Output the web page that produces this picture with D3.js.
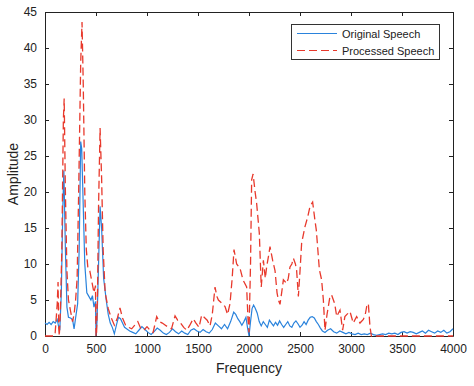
<!DOCTYPE html>
<html>
<head>
    <script src="https://d3js.org/d3.v7.min.js"></script>
    <style>
        body { margin: 0; background: white; font-family: Arial, "Liberation Sans", sans-serif; }
        svg { display: block; }
        .tick text { font-size: 12px; fill: #222; font-family: Arial, "Liberation Sans", sans-serif; }
        .domain, .tick line { stroke: #222; }
    </style>
</head>
<body>
<svg width="474" height="386"></svg>
<script>
    // Original speech spectrum (frequency, amplitude)
    let origFreq = [0, 20, 40, 60, 80, 100, 120, 135, 145, 160, 175, 185, 200, 215, 230, 250, 270, 285, 300, 320, 335, 350, 360, 375, 390, 410, 430, 450, 465, 480, 495, 500, 510, 525, 540, 555, 575, 600, 620, 640, 660, 680, 700, 720, 740, 760, 780, 800, 830, 860, 890, 920, 950, 980, 1010, 1040, 1070, 1100, 1130, 1160, 1190, 1220, 1250, 1280, 1310, 1340, 1370, 1400, 1430, 1460, 1490, 1520, 1550, 1580, 1610, 1640, 1670, 1700, 1730, 1760, 1790, 1820, 1850, 1870, 1890, 1910, 1930, 1950, 1970, 1985, 2000, 2015, 2030, 2045, 2060, 2080, 2100, 2120, 2140, 2160, 2180, 2200, 2220, 2240, 2260, 2280, 2300, 2320, 2340, 2360, 2380, 2400, 2420, 2440, 2460, 2480, 2500, 2520, 2540, 2560, 2580, 2600, 2620, 2640, 2660, 2680, 2700, 2720, 2745, 2770, 2800, 2830, 2860, 2890, 2920, 2950, 2980, 3010, 3040, 3070, 3100, 3130, 3160, 3190, 3220, 3250, 3280, 3310, 3340, 3370, 3400, 3430, 3460, 3490, 3520, 3550, 3580, 3610, 3640, 3670, 3700, 3730, 3760, 3790, 3820, 3850, 3880, 3910, 3940, 3970, 4000];
    let origAmp = [1.8, 1.6, 1.9, 1.6, 2.0, 1.8, 2.3, 1.2, 0.8, 6, 18, 23, 12, 4, 2.6, 2.5, 2.3, 1.0, 2.5, 4.5, 12, 27, 26, 18, 10, 6, 5.5, 5, 5.6, 4.0, 4.8, 0, 2, 10, 18, 15, 8, 5, 3, 1.8, 1.2, 0.3, 1.5, 2.6, 2.4, 1.8, 1.2, 1.0, 0.7, 0.5, 0.3, 0.8, 1.3, 0.9, 0.5, 0.2, 0.6, 1.1, 0.8, 0.4, 0.2, 0.5, 1.0, 0.6, 0.3, 0.7, 0.4, 0.2, 0.8, 1.0, 0.7, 0.5, 0.9, 0.6, 0.4, 0.9, 1.8, 1.4, 1.0, 1.6, 1.0, 2.0, 3.3, 3.0, 2.4, 2.0, 1.5, 2.0, 2.6, 1.2, 0, 2.0, 3.8, 4.3, 3.9, 3.2, 2.0, 1.4, 2.0, 1.6, 1.2, 2.2, 1.8, 1.4, 1.9, 1.5, 2.1, 1.6, 1.2, 1.6, 2.0, 1.4, 1.2, 1.8, 2.1, 1.7, 1.2, 1.5, 2.0, 1.6, 2.2, 2.6, 2.7, 2.5, 2.0, 1.6, 1.1, 0.7, 0.5, 0.8, 1.0, 0.6, 0.4, 0.7, 0.5, 0.3, 0.5, 0.3, 0.2, 0.4, 0.2, 0.3, 0.2, 0.4, 0.2, 0.1, 0.2, 0.3, 0.2, 0.4, 0.3, 0.4, 0.2, 0.5, 0.6, 0.4, 0.6, 0.5, 0.3, 0.5, 0.7, 0.4, 0.8, 0.6, 0.4, 0.7, 0.5, 0.8, 0.4, 0.6, 1.0];

    // Processed speech spectrum (frequency, amplitude)
    let procFreq = [0, 90, 100, 110, 120, 128, 135, 140, 150, 165, 180, 188, 200, 215, 230, 250, 270, 285, 300, 315, 330, 350, 363, 375, 390, 405, 420, 440, 460, 480, 495, 500, 505, 515, 525, 540, 555, 570, 590, 620, 650, 680, 710, 735, 760, 790, 820, 850, 880, 910, 940, 970, 1000, 1030, 1060, 1095, 1120, 1150, 1180, 1210, 1240, 1275, 1300, 1330, 1360, 1390, 1420, 1453, 1480, 1510, 1536, 1560, 1590, 1618, 1640, 1667, 1685, 1700, 1730, 1765, 1790, 1814, 1835, 1853, 1879, 1912, 1941, 1977, 1990, 2000, 2015, 2026, 2040, 2060, 2075, 2101, 2120, 2141, 2160, 2173, 2190, 2206, 2232, 2255, 2275, 2288, 2304, 2320, 2337, 2369, 2385, 2402, 2420, 2435, 2455, 2467, 2484, 2500, 2516, 2549, 2575, 2598, 2624, 2647, 2660, 2690, 2712, 2729, 2745, 2765, 2794, 2810, 2840, 2860, 2892, 2918, 2940, 2960, 2990, 3022, 3055, 3088, 3121, 3140, 3154, 3170, 3186, 3200, 4000];
    let procAmp = [0, 0, 0.5, 2.5, 4.5, 7.5, 1, 0, 3, 12, 30, 33, 20, 9, 5, 3.5, 2, 3, 5, 8, 20, 38, 43.6, 35, 20, 12, 9.5, 9, 7.5, 6, 7, 0, 0, 6, 18, 28.9, 22, 12, 6, 3.8, 2.5, 1.5, 2.5, 3.9, 2.5, 1.5, 1.2, 1, 1.5, 2.0, 1.0, 0.8, 1.3, 0.8, 0.5, 2.7, 2.0, 1.8, 1.5, 1.2, 1.0, 2.8, 2.2, 1.8, 1.2, 0.8, 1.5, 2.4, 1.8, 1.2, 2.9, 2.6, 2.2, 1.4, 3, 6.8, 5.5, 5.0, 4.6, 4.1, 3, 4.5, 8, 12, 10, 9.4, 7.8, 6.8, 2.4, 0.5, 10, 21.7, 22.5, 20, 18.4, 14.3, 6.8, 10.5, 8, 9.6, 11, 12.4, 10.5, 9.1, 6, 5.0, 4.4, 6, 7.8, 7.3, 8, 9.6, 10, 10.8, 10, 9.1, 5.5, 9, 12.9, 15.2, 16.5, 18, 18.6, 16, 14.7, 9.2, 7.8, 5, 0.8, 3, 5.5, 5.7, 4.5, 2.7, 3.6, 0.8, 2.7, 3, 3.4, 1.8, 2.7, 1.8, 2.3, 3, 4.1, 4.5, 1.3, 0, 0];

    let xTicks = [0, 500, 1000, 1500, 2000, 2500, 3000, 3500, 4000];
    let yTicks = [0, 5, 10, 15, 20, 25, 30, 35, 40, 45];
    let seriesNames = ["Original Speech", "Processed Speech"];

    let svg = d3.select("svg");
    let mLeft = 45, mRight = 453, mTop = 12, mBottom = 336;

    let x = d3.scaleLinear().domain([0, 4000]).range([mLeft, mRight]);
    let y = d3.scaleLinear().domain([0, 45]).range([mBottom, mTop]);

    svg.append("rect").attr("width", 474).attr("height", 386).attr("fill", "white");

    // axes with inward ticks, box on
    svg.append("g").attr("transform", "translate(0," + mBottom + ")")
        .call(d3.axisBottom(x).tickValues(xTicks).tickFormat(d3.format("d"))
            .tickSizeInner(-4).tickSizeOuter(0).tickPadding(8))
        .selectAll("text").attr("dy", "0.75em");
    svg.append("g").attr("transform", "translate(0," + mTop + ")")
        .call(d3.axisTop(x).tickValues(xTicks).tickSizeInner(-4).tickSizeOuter(0).tickFormat(""));
    svg.append("g").attr("transform", "translate(" + mLeft + ",0)")
        .call(d3.axisLeft(y).tickValues(yTicks).tickFormat(d3.format("d"))
            .tickSizeInner(-4).tickSizeOuter(0).tickPadding(8));
    svg.append("g").attr("transform", "translate(" + mRight + ",0)")
        .call(d3.axisRight(y).tickValues(yTicks).tickSizeInner(-4).tickSizeOuter(0).tickFormat(""));

    let line = d3.line().x(d => x(d[0])).y(d => y(d[1]));

    svg.append("path")
        .datum(origFreq.map((f, i) => [f, origAmp[i]]))
        .attr("d", line)
        .attr("fill", "none")
        .attr("stroke", "#2a83dc")
        .attr("stroke-width", 1.2);

    svg.append("path")
        .datum(procFreq.map((f, i) => [f, procAmp[i]]))
        .attr("d", line)
        .attr("fill", "none")
        .attr("stroke", "#e8392c")
        .attr("stroke-width", 1.3)
        .attr("stroke-dasharray", "8,4");

    // axis labels
    svg.append("text")
        .attr("x", (mLeft + mRight) / 2).attr("y", 373)
        .attr("text-anchor", "middle")
        .style("font-size", "14px").attr("fill", "#222")
        .text("Frequency");
    svg.append("text")
        .attr("transform", "translate(18," + (mTop + mBottom) / 2 + ") rotate(-90)")
        .attr("text-anchor", "middle")
        .style("font-size", "14px").attr("fill", "#222")
        .text("Amplitude");

    // legend
    let lg = svg.append("g");
    lg.append("rect").attr("x", 291.5).attr("y", 24.5).attr("width", 148).attr("height", 35)
        .attr("fill", "white").attr("stroke", "#333").attr("stroke-width", 1);
    let legendStyles = [{c: "#2a83dc", dash: null}, {c: "#e8392c", dash: "8,4"}];
    seriesNames.forEach((name, i) => {
        let yy = 33.5 + i * 17;
        lg.append("line").attr("x1", 297).attr("x2", 337).attr("y1", yy).attr("y2", yy)
            .attr("stroke", legendStyles[i].c).attr("stroke-width", 1.1)
            .attr("stroke-dasharray", legendStyles[i].dash);
        lg.append("text").attr("x", 342).attr("y", yy + 4)
            .style("font-size", "11px").attr("fill", "#222")
            .text(name);
    });
</script>
</body>
</html>
